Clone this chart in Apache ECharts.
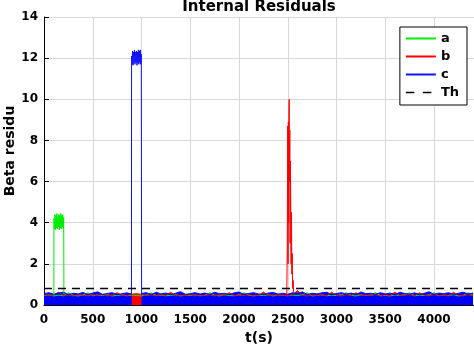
<!DOCTYPE html>
<html>
<head>
<meta charset="utf-8">
<script src="https://cdn.jsdelivr.net/npm/echarts@6/dist/echarts.min.js"></script>
<style>html,body{margin:0;padding:0;background:#fff;}#c{width:474px;height:348px;}</style>
</head>
<body>
<div id="c"></div>
<script>
// ---- data ----
var bandStart = 0, bandStep = 50; // time grid of the noise envelope (s)
var greenBand = [0.46,0.49,0.44,0.48,0.45,0.60,0.47,0.44,0.49,0.60,
  0.45,0.48,0.46,0.50,0.44,0.47,0.49,0.45,0.48,0.46,
  0.44,0.49,0.60,0.46,0.48,0.45,0.47,0.50,0.44,0.48,
  0.46,0.49,0.45,0.47,0.60,0.48,0.44,0.50,0.46,0.45,
  0.49,0.60,0.47,0.45,0.48,0.46,0.50,0.44,0.49,0.47,
  0.45,0.48,0.46,0.50,0.60,0.44,0.47,0.49,0.45,0.48,
  0.46,0.50,0.60,0.47,0.44,0.49,0.46,0.48,0.61,0.45,
  0.47,0.44,0.49,0.46,0.50,0.60,0.45,0.48,0.46,0.49,
  0.60,0.45,0.48,0.46,0.50,0.44,0.47,0.60,0.48];
var redBand = [0.48,0.45,0.50,0.62,0.46,0.49,0.44,0.50,0.47,0.45,
  0.49,0.46,0.50,0.44,0.48,0.60,0.47,0.45,0.53,0.55,
  0.52,0.46,0.49,0.45,0.50,0.47,0.62,0.44,0.48,0.46,
  0.50,0.45,0.48,0.46,0.49,0.44,0.50,0.47,0.60,0.45,
  0.48,0.46,0.50,0.44,0.47,0.63,0.45,0.49,0.46,0.48,
  0.45,0.50,0.70,0.47,0.44,0.49,0.46,0.48,0.45,0.62,
  0.47,0.44,0.50,0.46,0.60,0.45,0.48,0.46,0.50,0.44,
  0.49,0.46,0.63,0.45,0.48,0.50,0.44,0.60,0.47,0.45,
  0.50,0.46,0.48,0.44,0.62,0.47,0.45,0.49,0.46];
var blueBand = [0.55,0.60,0.52,0.58,0.63,0.50,0.57,0.54,0.61,0.51,
  0.58,0.64,0.52,0.56,0.60,0.50,0.55,0.59,0.53,null,
  0.56,0.60,0.51,0.62,0.54,0.58,0.50,0.57,0.65,0.52,
  0.55,0.60,0.53,0.58,0.51,0.62,0.55,0.57,0.50,0.59,
  0.63,0.52,0.56,0.60,0.54,0.50,0.58,0.61,0.53,0.57,
  0.52,0.60,0.55,0.64,0.51,0.57,0.54,0.59,0.62,0.50,
  0.56,0.60,0.53,0.58,0.51,0.63,0.55,0.57,0.52,0.60,
  0.54,0.58,0.50,0.62,0.56,0.53,0.59,0.51,0.57,0.64,
  0.52,0.58,0.55,0.60,0.51,0.57,0.62,0.54,0.58];

var aTimes  = [101,102,107,112,117,122,127,132,137,142,147,152,157,162,167,172,177,182,187,192,197,202,204];
var aValues = [0.5,4.2,3.7,4.4,3.65,4.35,3.75,4.45,3.7,4.3,3.8,4.4,3.65,4.35,3.75,4.45,3.7,4.35,3.8,4.4,3.7,4.25,0.5];
var cTimes  = [897,898,903,908,913,918,923,928,933,938,943,948,953,958,963,968,973,978,983,988,993,998,1001];
var cValues = [0.5,12.1,11.7,12.35,11.65,12.3,11.75,12.4,11.7,12.3,11.8,12.35,11.65,12.3,11.75,12.4,11.7,12.35,11.8,12.4,11.7,12.2,0.5];
var bTimes  = [2490,2495,2500,2503,2506,2509,2512,2515,2518,2521,2524,2527,2530,2534,2538,2542,2546,2550,2555,2560];
var bValues = [0.5,3,8.7,2,8.9,4,9.5,10,6,8.5,3,7,5.2,2,4.5,1.5,2.5,0.8,1.2,0.6];
var thValue = 0.8;
var xMin = 0, xMax = 4410, xStep = 500;
var yMin = 0, yMax = 14, yStep = 2;
var legendNames = ['a','b','c','Th'];

// ---- build ----
function band(vals){ return vals.map(function(v,i){ return [bandStart + i*bandStep, v]; }); }
function pairs(ts, vs){ return ts.map(function(t,i){ return [t, vs[i]]; }); }
var FONT = 'DejaVu Sans';
var GREEN = '#00ee00', RED = '#ff0000', BLUE = '#0000ff';
function bandSeries(name, vals, color){
  return {name:name, type:'line', data:band(vals), symbol:'none', silent:true, connectNulls:false,
    lineStyle:{color:color,width:1}, itemStyle:{color:color}, areaStyle:{color:color,opacity:1},
    emphasis:{disabled:true}};
}
function lineSeries(name, data, color){
  return {name:name, type:'line', data:data, symbol:'none', silent:true,
    lineStyle:{color:color,width:1}, itemStyle:{color:color}, emphasis:{disabled:true}};
}
function plain(v){ return String(v); }
var legendData = legendNames.map(function(n){
  return n === 'Th' ? {name:n, lineStyle:{type:[8.5,8.5], width:1.5}} : {name:n};
});
var chart = echarts.init(document.getElementById('c'), null, {renderer:'canvas'});
chart.setOption({
  animation:false,
  backgroundColor:'#fff',
  title:{text:'Internal Residuals', left:254, top:-5, textAlign:'center',
    textStyle:{fontFamily:FONT, fontWeight:'bold', fontSize:15, color:'#000'}},
  legend:{data:legendData, orient:'vertical', right:7, top:27, padding:[5,8,6,5],
    itemWidth:30, itemHeight:14, itemGap:5, borderColor:'#000', borderWidth:1, backgroundColor:'#fff',
    itemStyle:{opacity:0},
    selectedMode:false, textStyle:{fontFamily:FONT, fontWeight:'bold', fontSize:13, color:'#000'}},
  grid:{left:44, right:0, top:17, bottom:43, outerBoundsMode:'none', containLabel:false},
  xAxis:{type:'value', min:xMin, max:xMax, interval:xStep, name:'t(s)', nameLocation:'middle', nameGap:26,
    nameMoveOverlap:false,
    nameTextStyle:{fontFamily:FONT, fontWeight:'bold', fontSize:14, color:'#000'},
    axisLine:{show:true, lineStyle:{color:'#000'}}, axisTick:{inside:true, length:5, lineStyle:{color:'#000'}},
    axisLabel:{fontFamily:FONT, fontWeight:'bold', fontSize:12, color:'#000', margin:9, showMaxLabel:false, formatter:plain},
    splitLine:{show:true, lineStyle:{color:'#d8d8d8', width:1}}},
  yAxis:{type:'value', min:yMin, max:yMax, interval:yStep, name:'Beta residu', nameLocation:'middle', nameGap:27,
    nameMoveOverlap:false,
    nameTextStyle:{fontFamily:FONT, fontWeight:'bold', fontSize:14, color:'#000', padding:[0,0,0,20]},
    axisLine:{show:true, lineStyle:{color:'#000'}}, axisTick:{show:true, inside:true, length:5, lineStyle:{color:'#000'}},
    axisLabel:{fontFamily:FONT, fontWeight:'bold', fontSize:12, color:'#000', margin:6, formatter:plain},
    splitLine:{show:true, lineStyle:{color:'#d8d8d8', width:1}}},
  series:[
    bandSeries('a band', greenBand, GREEN),
    bandSeries('b band', redBand, RED),
    bandSeries('c band', blueBand, BLUE),
    lineSeries('a', pairs(aTimes, aValues), GREEN),
    lineSeries('c', pairs(cTimes, cValues), '#1010ff'),
    lineSeries('b', pairs(bTimes, bValues), RED),
    {name:'Th', type:'line', data:[[xMin,thValue],[xMax,thValue]], symbol:'none', silent:true,
      lineStyle:{color:'#000', width:1.5, type:[8,6]}, itemStyle:{color:'#000'}, emphasis:{disabled:true}}
  ]
});
</script>
</body>
</html>
